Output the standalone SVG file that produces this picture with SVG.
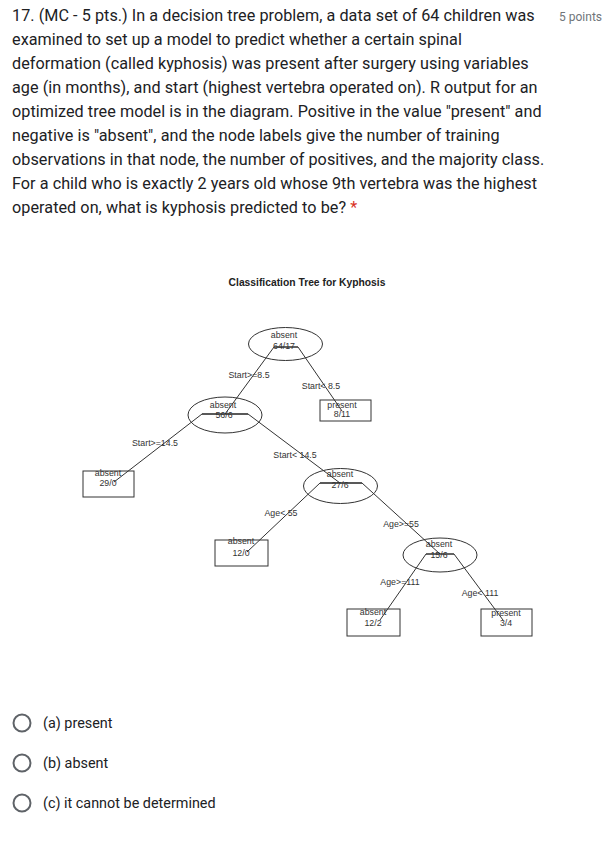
<svg xmlns="http://www.w3.org/2000/svg" width="614" height="845" viewBox="0 0 614 845">
<defs>
<style>
.q{font-family:Roboto,"Liberation Sans",sans-serif;font-size:16.2px;letter-spacing:0.05px;fill:#202124}
.pts{font-family:Roboto,"Liberation Sans",sans-serif;font-size:12px;fill:#70757a}
.opt{font-family:Roboto,"Liberation Sans",sans-serif;font-size:14.4px;fill:#202124}
.radio{fill:none;stroke:#5f6368;stroke-width:2}
.title{font-family:"Liberation Sans",Arial,sans-serif;font-size:10.3px;font-weight:bold;fill:#222}
.t{font-family:"Liberation Sans",Arial,sans-serif;font-size:8.8px;fill:#333;text-anchor:middle}
.node{fill:none;stroke:#333;stroke-width:1}
.edge{fill:none;stroke:#333;stroke-width:1}
.bar{fill:none;stroke:#222;stroke-width:1.4}
</style>
</defs>
<rect x="0" y="0" width="614" height="845" fill="#fff"/>
<g id="question">
<text class="q" x="12" y="21">17. (MC - 5 pts.) In a decision tree problem, a data set of 64 children was</text>
<text class="q" x="12" y="45">examined to set up a model to predict whether a certain spinal</text>
<text class="q" x="12" y="69">deformation (called kyphosis) was present after surgery using variables</text>
<text class="q" x="12" y="93">age (in months), and start (highest vertebra operated on). R output for an</text>
<text class="q" x="12" y="117">optimized tree model is in the diagram. Positive in the value "present" and</text>
<text class="q" x="12" y="141">negative is "absent", and the node labels give the number of training</text>
<text class="q" x="12" y="165">observations in that node, the number of positives, and the majority class.</text>
<text class="q" x="12" y="189">For a child who is exactly 2 years old whose 9th vertebra was the highest</text>
<text class="q" x="12" y="213">operated on, what is kyphosis predicted to be? <tspan fill="#d93025">*</tspan></text>
<text class="pts" x="602" y="21" text-anchor="end">5 points</text>
</g>
<text class="title" x="307" y="286" text-anchor="middle">Classification Tree for Kyphosis</text>
<g id="connectors">
<polyline class="edge" points="225,414 274,347"/>
<polyline class="bar" points="274,347 298,347"/>
<polyline class="edge" points="298,347 342,411"/>
<polyline class="edge" points="202,414 114,482"/>
<polyline class="bar" points="202,414 248,414"/>
<polyline class="edge" points="248,414 340,483"/>
<polyline class="edge" points="320,483 247,552"/>
<polyline class="bar" points="320,483 362,483"/>
<polyline class="edge" points="362,483 440,554"/>
<polyline class="edge" points="426,554 380,620"/>
<polyline class="bar" points="426,554 454,554"/>
<polyline class="edge" points="454,554 503,620"/>
<text class="t" x="249" y="378">Start&gt;=8.5</text>
<text class="t" x="321" y="389">Start&lt; 8.5</text>
<text class="t" x="155" y="446">Start&gt;=14.5</text>
<text class="t" x="295" y="458">Start&lt; 14.5</text>
<text class="t" x="281" y="516">Age&lt; 55</text>
<text class="t" x="401" y="527">Age&gt;=55</text>
<text class="t" x="400" y="585">Age&gt;=111</text>
<text class="t" x="480" y="596">Age&lt; 111</text>
</g>
<g id="n1">
<ellipse class="node" cx="285.5" cy="344" rx="37" ry="16.5"/>
<text class="t" x="284" y="338">absent</text>
<text class="t" x="284" y="349">64/17</text>
</g>
<g id="n2">
<ellipse class="node" cx="225" cy="415" rx="37" ry="18"/>
<text class="t" x="223" y="408">absent</text>
<text class="t" x="224" y="418">56/6</text>
</g>
<g id="n3">
<rect class="node" x="320" y="400" width="51" height="21"/>
<text class="t" x="342" y="408">present</text>
<text class="t" x="342" y="417">8/11</text>
</g>
<g id="n4">
<rect class="node" x="83" y="471" width="51" height="26"/>
<text class="t" x="108" y="476">absent</text>
<text class="t" x="108" y="486">29/0</text>
</g>
<g id="n5">
<ellipse class="node" cx="340.5" cy="486" rx="37" ry="17.5"/>
<text class="t" x="340" y="477">absent</text>
<text class="t" x="340" y="488">27/6</text>
</g>
<g id="n6">
<rect class="node" x="215" y="540" width="53" height="26"/>
<text class="t" x="241" y="544">absent</text>
<text class="t" x="241" y="556">12/0</text>
</g>
<g id="n7">
<ellipse class="node" cx="440" cy="555" rx="37" ry="17"/>
<text class="t" x="439" y="547">absent</text>
<text class="t" x="439" y="558">15/6</text>
</g>
<g id="n8">
<rect class="node" x="347" y="609" width="53" height="27"/>
<text class="t" x="373" y="615">absent</text>
<text class="t" x="373" y="626">12/2</text>
</g>
<g id="n9">
<rect class="node" x="481" y="609" width="51" height="27"/>
<text class="t" x="506" y="616">present</text>
<text class="t" x="506" y="626">3/4</text>
</g>
<g id="options">
<circle class="radio" cx="22" cy="723" r="8.5"/>
<text class="opt" x="43" y="728">(a) present</text>
<circle class="radio" cx="22" cy="763" r="8.5"/>
<text class="opt" x="43" y="768">(b) absent</text>
<circle class="radio" cx="22" cy="803" r="8.5"/>
<text class="opt" x="43" y="808">(c) it cannot be determined</text>
</g>
</svg>
